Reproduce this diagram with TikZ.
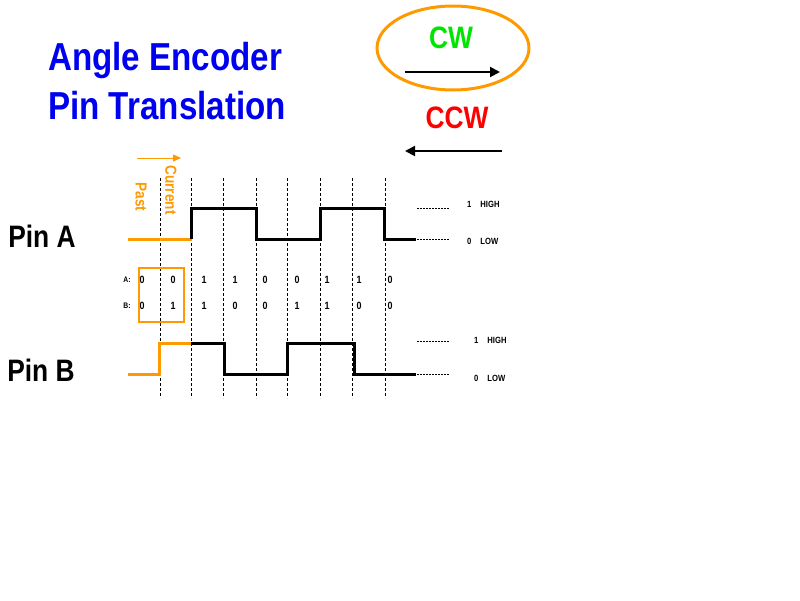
\documentclass[tikz,border=0pt]{standalone}
\usepackage{fontspec}
\setmainfont{Liberation Sans}[FakeStretch=0.85]
\usetikzlibrary{arrows.meta,shapes.geometric}
\definecolor{org}{RGB}{255,153,0}
\definecolor{ttl}{RGB}{0,0,240}
\begin{document}
\begin{tikzpicture}[x=1pt,y=-1pt,
  big/.style={font=\fontsize{39}{39}\selectfont\bfseries,anchor=west,inner sep=0},
  pin/.style={font=\fontsize{31}{31}\selectfont\bfseries,anchor=center,inner sep=0},
  sm/.style={font=\fontsize{9}{9}\selectfont\bfseries,inner sep=0},
  dig/.style={font=\fontsize{10.5}{10.5}\selectfont\bfseries,inner sep=0},
  grid/.style={thin,dash pattern=on 3pt off 2pt},
  dots/.style={thin,dash pattern=on 1.5pt off 1.5pt},
  wave/.style={line width=3pt},
  owave/.style={line width=3pt,org}]
\useasboundingbox (0,0) rectangle (800,600);
\node[big,ttl] (t1) at (48,60) {Angle Encoder};
\node[big,ttl] (t2) at (48,106) {Pin Translation};
\node[draw=org,line width=3pt,ellipse,minimum width=152,minimum height=84] (el) at (453,48) {};
\node[font=\fontsize{31}{31}\selectfont\bfseries,green!90!black] (cw) at (451,38) {CW};
\node[font=\fontsize{31}{31}\selectfont\bfseries,red] (ccw) at (457,118) {CCW};
\coordinate (a1) at (405,72); \coordinate (a2) at (500,72);
\coordinate (b1) at (502,151); \coordinate (b2) at (405,151);
\draw[line width=2pt,-{Triangle[length=10pt,width=10pt]}] (a1) -- (a2);
\draw[line width=2pt,-{Triangle[length=10pt,width=10pt]}] (b1) -- (b2);
\node[pin] (pa) at (42,236) {Pin A};
\node[pin] (pb) at (41,370) {Pin B};
% past/current
\coordinate (p1) at (137,158); \coordinate (p2) at (181,158);
\draw[org,thick,-{Triangle[length=8pt,width=7pt]}] (p1) -- (p2);
\node[org,rotate=-90,font=\fontsize{16}{16}\selectfont\bfseries,inner sep=0] (cur) at (171,190) {Current};
\node[org,rotate=-90,font=\fontsize{16}{16}\selectfont\bfseries,inner sep=0] (past) at (141,197) {Past};
% grid
\foreach \x in {160,191,223,256,287,320,352,385} \draw[grid] (\x,178) -- (\x,398);
% pin A
\draw[owave] (128,239) -- (192,239);
\draw[wave] (191,239) -- (191,208) -- (256,208) -- (256,239) -- (320,239) -- (320,208) -- (384,208) -- (384,239) -- (416,239);
% pin B
\draw[owave] (128,374) -- (159,374) -- (159,343) -- (192,343);
\draw[wave] (191,343) -- (224,343) -- (224,374) -- (287,374) -- (287,343) -- (354,343) -- (354,374) -- (416,374);
% levels
\draw[dots] (417,208) -- (450,208); \draw[dots] (417,239) -- (450,239);
\draw[dots] (417,341) -- (450,341); \draw[dots] (417,374) -- (450,374);
\node[sm,anchor=west] (h1) at (467,204) {1\hspace{9pt}HIGH};
\node[sm,anchor=west] (l1) at (467,241) {0\hspace{9pt}LOW};
\node[sm,anchor=west] (h2) at (474,340) {1\hspace{9pt}HIGH};
\node[sm,anchor=west] (l2) at (474,378) {0\hspace{9pt}LOW};
% table
\node[dig,font=\fontsize{8}{8}\selectfont\bfseries] (la) at (127,280) {A:};
\node[dig,font=\fontsize{8}{8}\selectfont\bfseries] (lb) at (127,306) {B:};
\foreach \x/\a/\b in {142/0/0,173/0/1,204/1/1,235/1/0,265/0/0,297/0/1,327/1/1,359/1/0,390/0/0}{
  \node[dig] at (\x,280) {\a};
  \node[dig] at (\x,306) {\b};}
\draw[org,line width=2.5pt] (139,268) rectangle (184,322);
\end{tikzpicture}
\end{document}
